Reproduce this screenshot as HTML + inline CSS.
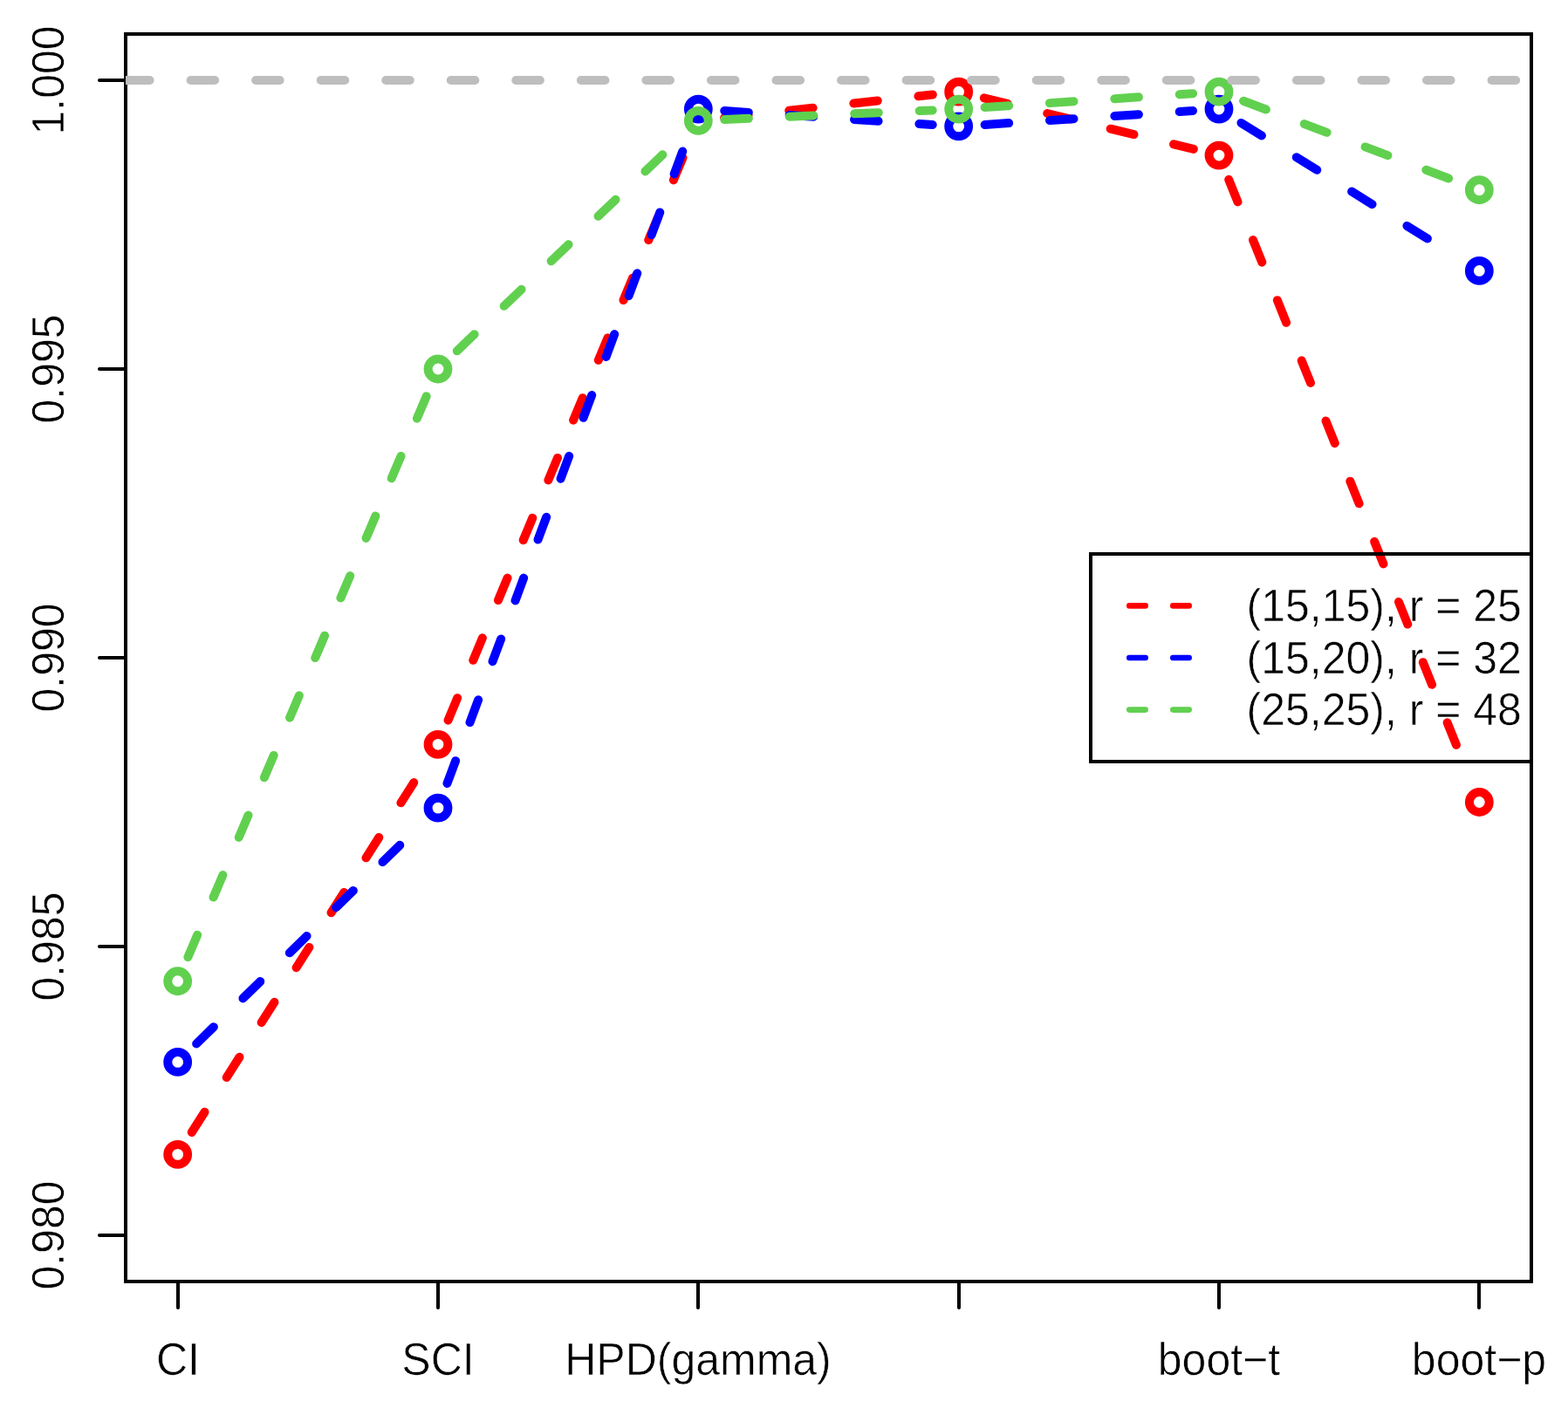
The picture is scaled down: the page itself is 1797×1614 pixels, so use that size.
<!DOCTYPE html>
<html><head><meta charset="utf-8"><title>plot</title>
<style>html,body{margin:0;padding:0;background:#fff;overflow:hidden;}svg{display:block;}text{font-family:"Liberation Sans",Arial,Helvetica,sans-serif;stroke:#fff;stroke-width:0.6px;}</style>
</head><body>
<svg width="1797" height="1614" viewBox="0 0 1797 1614">
<rect x="0" y="0" width="1797" height="1614" fill="#fff"/>
<defs><clipPath id="pr"><rect x="144.0" y="39.0" width="1611.0" height="1430.0"/></clipPath></defs>
<rect x="144.0" y="39.0" width="1611.0" height="1430.0" fill="none" stroke="#000" stroke-width="4.0"/>
<line x1="144.00" y1="1416.04" x2="114.00" y2="1416.04" stroke="#000" stroke-width="4.0" stroke-linecap="round"/>
<text x="0" y="0" font-size="50" text-anchor="middle" transform="translate(73 1416.04) rotate(-90) scale(1 1.03)">0.980</text>
<line x1="144.00" y1="1085.02" x2="114.00" y2="1085.02" stroke="#000" stroke-width="4.0" stroke-linecap="round"/>
<text x="0" y="0" font-size="50" text-anchor="middle" transform="translate(73 1085.02) rotate(-90) scale(1 1.03)">0.985</text>
<line x1="144.00" y1="754.00" x2="114.00" y2="754.00" stroke="#000" stroke-width="4.0" stroke-linecap="round"/>
<text x="0" y="0" font-size="50" text-anchor="middle" transform="translate(73 754.00) rotate(-90) scale(1 1.03)">0.990</text>
<line x1="144.00" y1="422.98" x2="114.00" y2="422.98" stroke="#000" stroke-width="4.0" stroke-linecap="round"/>
<text x="0" y="0" font-size="50" text-anchor="middle" transform="translate(73 422.98) rotate(-90) scale(1 1.03)">0.995</text>
<line x1="144.00" y1="91.96" x2="114.00" y2="91.96" stroke="#000" stroke-width="4.0" stroke-linecap="round"/>
<text x="0" y="0" font-size="50" text-anchor="middle" transform="translate(73 91.96) rotate(-90) scale(1 1.03)">1.000</text>
<line x1="204.00" y1="1469.0" x2="204.00" y2="1499.0" stroke="#000" stroke-width="4.0" stroke-linecap="round"/>
<text x="0" y="0" font-size="50" text-anchor="middle" transform="translate(204.00 1576) scale(1 1.03)">CI</text>
<line x1="502.00" y1="1469.0" x2="502.00" y2="1499.0" stroke="#000" stroke-width="4.0" stroke-linecap="round"/>
<text x="0" y="0" font-size="50" text-anchor="middle" transform="translate(502.00 1576) scale(1 1.03)">SCI</text>
<line x1="800.00" y1="1469.0" x2="800.00" y2="1499.0" stroke="#000" stroke-width="4.0" stroke-linecap="round"/>
<text x="0" y="0" font-size="50" text-anchor="middle" transform="translate(800.00 1576) scale(1 1.03)">HPD(gamma)</text>
<line x1="1099.00" y1="1469.0" x2="1099.00" y2="1499.0" stroke="#000" stroke-width="4.0" stroke-linecap="round"/>
<line x1="1397.00" y1="1469.0" x2="1397.00" y2="1499.0" stroke="#000" stroke-width="4.0" stroke-linecap="round"/>
<text x="0" y="0" font-size="50" text-anchor="middle" transform="translate(1397.00 1576) scale(1 1.03)">boot−t</text>
<line x1="1695.00" y1="1469.0" x2="1695.00" y2="1499.0" stroke="#000" stroke-width="4.0" stroke-linecap="round"/>
<text x="0" y="0" font-size="50" text-anchor="middle" transform="translate(1695.00 1576) scale(1 1.03)">boot−p</text>
<g clip-path="url(#pr)">
<line x1="219.74" y1="1298.02" x2="485.92" y2="878.63" stroke="#FF0000" stroke-width="10.0" stroke-linecap="round" stroke-dasharray="27.60 46.95"/>
<line x1="513.55" y1="825.62" x2="788.78" y2="165.99" stroke="#FF0000" stroke-width="10.0" stroke-linecap="round" stroke-dasharray="27.60 46.95"/>
<line x1="830.15" y1="135.00" x2="1068.85" y2="108.51" stroke="#FF0000" stroke-width="10.0" stroke-linecap="round" stroke-dasharray="27.60 46.95"/>
<line x1="1127.81" y1="112.32" x2="1367.86" y2="170.91" stroke="#FF0000" stroke-width="10.0" stroke-linecap="round" stroke-dasharray="27.60 46.95"/>
<line x1="1408.20" y1="205.86" x2="1684.14" y2="891.68" stroke="#FF0000" stroke-width="10.0" stroke-linecap="round" stroke-dasharray="27.60 46.95"/>
<circle cx="203.67" cy="1323.35" r="11.4" fill="none" stroke="#FF0000" stroke-width="10.0"/>
<circle cx="502.00" cy="853.31" r="11.4" fill="none" stroke="#FF0000" stroke-width="10.0"/>
<circle cx="1098.67" cy="105.20" r="11.4" fill="none" stroke="#FF0000" stroke-width="10.0"/>
<circle cx="1397.00" cy="178.03" r="11.4" fill="none" stroke="#FF0000" stroke-width="10.0"/>
<circle cx="1695.33" cy="919.51" r="11.4" fill="none" stroke="#FF0000" stroke-width="10.0"/>
<line x1="225.13" y1="1196.47" x2="480.54" y2="947.09" stroke="#0000FF" stroke-width="10.0" stroke-linecap="round" stroke-dasharray="27.60 46.95"/>
<line x1="512.47" y1="898.02" x2="789.86" y2="153.18" stroke="#0000FF" stroke-width="10.0" stroke-linecap="round" stroke-dasharray="27.60 46.95"/>
<line x1="830.27" y1="127.06" x2="1068.73" y2="142.93" stroke="#0000FF" stroke-width="10.0" stroke-linecap="round" stroke-dasharray="27.60 46.95"/>
<line x1="1128.60" y1="142.93" x2="1367.07" y2="127.06" stroke="#0000FF" stroke-width="10.0" stroke-linecap="round" stroke-dasharray="27.60 46.95"/>
<line x1="1422.48" y1="140.90" x2="1669.85" y2="294.60" stroke="#0000FF" stroke-width="10.0" stroke-linecap="round" stroke-dasharray="27.60 46.95"/>
<circle cx="203.67" cy="1217.43" r="11.4" fill="none" stroke="#0000FF" stroke-width="10.0"/>
<circle cx="502.00" cy="926.13" r="11.4" fill="none" stroke="#0000FF" stroke-width="10.0"/>
<circle cx="800.33" cy="125.06" r="11.4" fill="none" stroke="#0000FF" stroke-width="10.0"/>
<circle cx="1098.67" cy="144.93" r="11.4" fill="none" stroke="#0000FF" stroke-width="10.0"/>
<circle cx="1397.00" cy="125.06" r="11.4" fill="none" stroke="#0000FF" stroke-width="10.0"/>
<circle cx="1695.33" cy="310.44" r="11.4" fill="none" stroke="#0000FF" stroke-width="10.0"/>
<line x1="215.40" y1="1097.13" x2="490.26" y2="450.59" stroke="#61D04F" stroke-width="10.0" stroke-linecap="round" stroke-dasharray="27.60 46.95"/>
<line x1="523.70" y1="402.27" x2="778.63" y2="159.02" stroke="#61D04F" stroke-width="10.0" stroke-linecap="round" stroke-dasharray="27.60 46.95"/>
<line x1="830.30" y1="136.98" x2="1068.70" y2="126.39" stroke="#61D04F" stroke-width="10.0" stroke-linecap="round" stroke-dasharray="27.60 46.95"/>
<line x1="1128.60" y1="123.07" x2="1367.07" y2="107.20" stroke="#61D04F" stroke-width="10.0" stroke-linecap="round" stroke-dasharray="27.60 46.95"/>
<line x1="1425.07" y1="115.79" x2="1667.26" y2="207.16" stroke="#61D04F" stroke-width="10.0" stroke-linecap="round" stroke-dasharray="27.60 46.95"/>
<circle cx="203.67" cy="1124.74" r="11.4" fill="none" stroke="#61D04F" stroke-width="10.0"/>
<circle cx="502.00" cy="422.98" r="11.4" fill="none" stroke="#61D04F" stroke-width="10.0"/>
<circle cx="800.33" cy="138.31" r="11.4" fill="none" stroke="#61D04F" stroke-width="10.0"/>
<circle cx="1098.67" cy="125.06" r="11.4" fill="none" stroke="#61D04F" stroke-width="10.0"/>
<circle cx="1397.00" cy="105.20" r="11.4" fill="none" stroke="#61D04F" stroke-width="10.0"/>
<circle cx="1695.33" cy="217.75" r="11.4" fill="none" stroke="#61D04F" stroke-width="10.0"/>
</g>
<g clip-path="url(#pr)"><line x1="144.0" y1="91.96" x2="1755.0" y2="91.96" stroke="#BEBEBE" stroke-width="10.0" stroke-linecap="round" stroke-dasharray="27.60 46.95"/></g>
<rect x="1250.0" y="635.0" width="505.0" height="238.0" fill="none" stroke="#000" stroke-width="4.0"/>
<line x1="1294.30" y1="694.40" x2="1362.70" y2="694.40" stroke="#FF0000" stroke-width="6.6" stroke-linecap="round" stroke-dasharray="18.40 31.60"/>
<text x="0" y="0" font-size="50" transform="translate(1428.5 712.00) scale(1 1.03)">(15,15), r = 25</text>
<line x1="1294.30" y1="754.00" x2="1362.70" y2="754.00" stroke="#0000FF" stroke-width="6.6" stroke-linecap="round" stroke-dasharray="18.40 31.60"/>
<text x="0" y="0" font-size="50" transform="translate(1428.5 771.60) scale(1 1.03)">(15,20), r = 32</text>
<line x1="1294.30" y1="813.60" x2="1362.70" y2="813.60" stroke="#61D04F" stroke-width="6.6" stroke-linecap="round" stroke-dasharray="18.40 31.60"/>
<text x="0" y="0" font-size="50" transform="translate(1428.5 831.20) scale(1 1.03)">(25,25), r = 48</text>
</svg></body></html>
